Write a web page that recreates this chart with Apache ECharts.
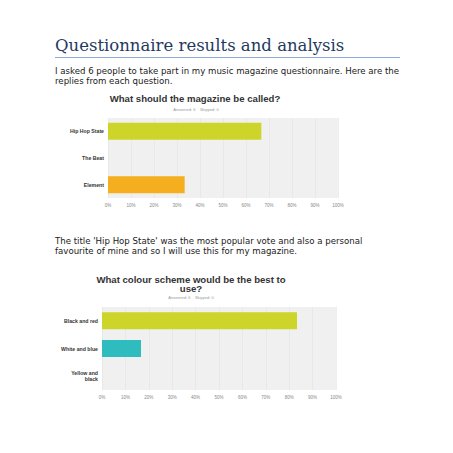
<!DOCTYPE html>
<html><head><meta charset="utf-8">
<script src="https://cdn.jsdelivr.net/npm/echarts@6/dist/echarts.min.js"></script>
<style>html,body{margin:0;padding:0;background:#fff}#c{width:453px;height:453px}</style>
</head><body><div id="c"></div>
<script>
var heading = 'Questionnaire results and analysis';
var para1 = ['I asked 6 people to take part in my music magazine questionnaire. Here are the', 'replies from each question.'];
var para2 = ["The title 'Hip Hop State' was the most popular vote and also a personal", 'favourite of mine and so I will use this for my magazine.'];
var q1Title = ['What should the magazine be called?'];
var q1Sub = 'Answered: 6    Skipped: 0';
var q1Categories = ['Hip Hop State', 'The Beat', 'Element'];
var q1Values = [66.67, 0, 33.33];
var q1Colors = ['#cdd52a', '#2fbcbf', '#f5ae1e'];
var q2Title = ['What colour scheme would be the best to', 'use?'];
var q2Sub = 'Answered: 6    Skipped: 0';
var q2Categories = ['Black and red', 'White and blue', 'Yellow and\nblack'];
var q2Values = [83.33, 16.67, 0];
var q2Colors = ['#cdd52a', '#2fbcbf', '#f5ae1e'];

var chart = echarts.init(document.getElementById('c'), null, {renderer: 'svg'});

function xAxisFor(gi) {
  return {
    gridIndex: gi, type: 'value', min: 0, max: 100, interval: 10,
    axisLine: {show: false}, axisTick: {show: false},
    axisLabel: {formatter: '{value}%', fontSize: 4.5, color: '#888', margin: 5, fontFamily: 'Liberation Sans'},
    splitLine: {show: true, lineStyle: {color: '#e2e2e2', width: 0.6}}
  };
}
function yAxisFor(gi, cats) {
  return {
    gridIndex: gi, type: 'category', data: cats, inverse: true,
    axisLine: {show: false}, axisTick: {show: false},
    axisLabel: {fontSize: 5.2, color: '#333', fontWeight: 'bold', margin: 4, fontFamily: 'Liberation Sans', lineHeight: 6.5}
  };
}
function titleStyle(size, weight, color) {
  return {fontSize: size, fontWeight: weight, color: color, fontFamily: 'Liberation Sans'};
}
function paraStyle(t) {
  return {text: t, fontSize: 8.6, fill: '#1a1a1a', fontFamily: 'DejaVu Sans'};
}

chart.setOption({
  animation: false,
  backgroundColor: '#fff',
  title: [
    {text: q1Title[0], left: 195, top: 93.5, padding: 0, textAlign: 'center', textStyle: titleStyle(9.6, 'bold', '#333')},
    {text: q1Sub, left: 196, top: 107, padding: 0, textAlign: 'center', textStyle: titleStyle(4, 'normal', '#999')},
    {text: q2Title[0], left: 191, top: 274, padding: 0, textAlign: 'center', textStyle: titleStyle(9.6, 'bold', '#333')},
    {text: q2Title[1], left: 191, top: 283.5, padding: 0, textAlign: 'center', textStyle: titleStyle(9.6, 'bold', '#333')},
    {text: q2Sub, left: 191, top: 295, padding: 0, textAlign: 'center', textStyle: titleStyle(4, 'normal', '#999')}
  ],
  grid: [
    {left: 108, right: 115, top: 118, height: 80, backgroundColor: '#f0f0f0', show: true, borderWidth: 0},
    {left: 102, right: 117, top: 307, height: 83, backgroundColor: '#f0f0f0', show: true, borderWidth: 0}
  ],
  xAxis: [xAxisFor(0), xAxisFor(1)],
  yAxis: [yAxisFor(0, q1Categories), yAxisFor(1, q2Categories)],
  series: [
    {type: 'bar', xAxisIndex: 0, yAxisIndex: 0, barWidth: 17,
     data: q1Values.map(function (v, i) { return {value: v, itemStyle: {color: q1Colors[i]}}; })},
    {type: 'bar', xAxisIndex: 1, yAxisIndex: 1, barWidth: 17,
     data: q2Values.map(function (v, i) { return {value: v, itemStyle: {color: q2Colors[i]}}; })}
  ],
  graphic: [
    {type: 'text', left: 55, top: 37, style: {text: heading, fontSize: 16.5, fill: '#1f3a5f', fontFamily: 'DejaVu Serif'}},
    {type: 'line', shape: {x1: 55, y1: 57.5, x2: 400, y2: 57.5}, style: {stroke: '#8eaad6', lineWidth: 1}},
    {type: 'text', left: 55, top: 66.3, style: paraStyle(para1[0])},
    {type: 'text', left: 55, top: 76.6, style: paraStyle(para1[1])},
    {type: 'text', left: 55, top: 236.3, style: paraStyle(para2[0])},
    {type: 'text', left: 55, top: 246.8, style: paraStyle(para2[1])}
  ]
});
</script></body></html>
